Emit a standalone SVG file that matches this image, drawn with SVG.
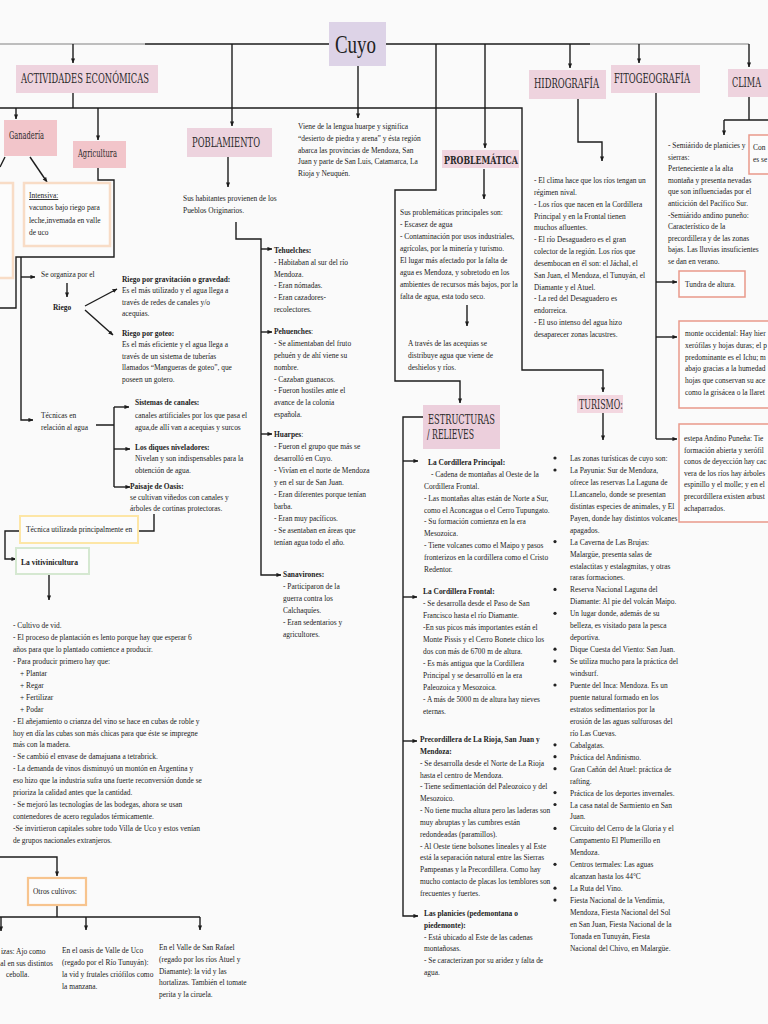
<svg xmlns="http://www.w3.org/2000/svg" width="768" height="1024" viewBox="0 0 768 1024">
<defs>
<style>
.t{font-family:"Liberation Serif","Times New Roman",serif;font-size:9px;fill:#222}
.b{font-weight:bold}
.h{font-family:"DejaVu Serif Condensed","DejaVu Serif",serif;fill:#2a2a2a}
.ln{fill:none;stroke:#1c1c1c;stroke-width:1.4}
.lg{fill:none;stroke:#a8a8a8;stroke-width:1.4}
.ar{marker-end:url(#ah)}
.pk{fill:#eed3de}
.ob{fill:#fcfcfc;stroke:#e9998a;stroke-width:1.5}
</style>
<marker id="ah" viewBox="0 0 6 6" refX="5.5" refY="3" markerWidth="5" markerHeight="5" orient="auto" markerUnits="userSpaceOnUse"><path d="M0,0.5L6,3L0,5.5z" fill="#1c1c1c"/></marker>
</defs>
<rect width="768" height="1024" fill="#fafafa"/>

<g id="connectors">
<path class="lg" d="M0,44H145"/>
<path class="ln" d="M145,44H329M386,44H590"/>
<path class="lg" d="M590,44H749"/>
<path class="ln ar" d="M73,44V63"/>
<path class="ln ar" d="M232,44V126"/>
<path class="ln ar" d="M436,44V190H395V381H460V403"/>
<path class="ln ar" d="M485,44V148"/>
<path class="ln ar" d="M570,44V68"/>
<path class="ln ar" d="M639,44V63"/>
<path class="ln ar" d="M749,44V67"/>
<path class="ln ar" d="M358,66V118"/>
<path class="ln ar" d="M0,108H522V370H603V392"/>
<path class="ln" d="M73,93V108"/>
<path class="ln ar" d="M16,108V119"/>
<path class="ln ar" d="M98,108V140"/>
<path class="ln" d="M5,157L0,167"/>
<path class="ln ar" d="M30,157L47,182"/>
<path class="ln" d="M98,168V180H114V257H16V308H0"/>
<path class="ln ar" d="M21,257V420H33"/>
<path class="ln ar" d="M21,277H35"/>
<path class="ln ar" d="M67,283V297"/>
<path class="ln ar" d="M85,306L117,289"/>
<path class="ln ar" d="M85,310L113,335"/>
<path class="ln" d="M96,425H114M114,407V487"/>
<path class="ln ar" d="M114,407H129"/>
<path class="ln ar" d="M114,449H130"/>
<path class="ln ar" d="M114,487H130"/>
<path class="ln" d="M154,514V531H139"/>
<path class="ln ar" d="M20,531H5V559H16"/>
<path class="ln ar" d="M49,575V600"/>
<path class="ln ar" d="M0,857H57V876"/>
<path class="ln" d="M57,905V917M0,917H200"/>
<path class="ln ar" d="M1,917V931"/>
<path class="ln ar" d="M86,917V930"/>
<path class="ln ar" d="M200,917V930"/>
<path class="ln ar" d="M228,157V187"/>
<path class="ln ar" d="M236,222V239H261V575H281"/>
<path class="ln ar" d="M261,249H272"/>
<path class="ln ar" d="M261,332H272"/>
<path class="ln ar" d="M261,434H272"/>
<path class="ln ar" d="M484,169V199"/>
<path class="ln ar" d="M467,305V326"/>
<path class="ln ar" d="M578,99V142H602V161"/>
<path class="ln ar" d="M603,413V440"/>
<path class="ln" d="M656,93V439"/>
<path class="ln ar" d="M656,282H677"/>
<path class="ln ar" d="M656,337H677"/>
<path class="ln ar" d="M656,439H677"/>
<path class="ln" d="M749,97V120M724,120H768"/>
<path class="ln ar" d="M724,120V135"/>
<path class="ln ar" d="M423,417H403V916H418"/>
<path class="ln ar" d="M403,461H418"/>
<path class="ln ar" d="M403,597H417"/>
<path class="ln ar" d="M403,741H417"/>
</g>

<g id="cuyo">
<rect x="329" y="22" width="57" height="44" fill="#ddd3e7"/>
<text x="335" y="53" font-family="Liberation Serif,serif" font-size="25" fill="#222" textLength="41" lengthAdjust="spacingAndGlyphs">Cuyo</text>
</g>
<g id="cuyo-desc" transform="translate(298,129) scale(.825,1)"><text class="t"><tspan x="0" y="0">Viene de la lengua huarpe y significa</tspan><tspan x="0" y="11.8">“desierto de piedra y arena” y ésta región</tspan><tspan x="0" y="23.6">abarca las provincias de Mendoza, San</tspan><tspan x="0" y="35.4">Juan y parte de San Luis, Catamarca, La</tspan><tspan x="0" y="47.2">Rioja y Neuquén.</tspan></text></g>

<g id="actividades">
<rect x="16" y="65" width="142" height="28" class="pk"/>
<text x="21" y="83" class="h" font-size="12" textLength="128" lengthAdjust="spacingAndGlyphs">ACTIVIDADES ECONÓMICAS</text>
</g>
<g id="ganaderia">
<rect x="4" y="120" width="53" height="36" fill="#f2c5ca"/>
<text x="9" y="139" class="h" font-size="11" textLength="35" lengthAdjust="spacingAndGlyphs">Ganadería</text>
</g>
<g id="agricultura">
<rect x="73" y="141" width="53" height="27" fill="#f2c5ca"/>
<text x="78" y="157" class="h" font-size="11" textLength="39" lengthAdjust="spacingAndGlyphs">Agricultura</text>
</g>
<g id="extensiva">
<rect x="-10" y="183" width="23" height="95" fill="#fcfcfc" stroke="#f8dcc6" stroke-width="2.5"/>
</g>
<g id="intensiva">
<rect x="24" y="183" width="86" height="63" fill="#fcfcfc" stroke="#f8dcc6" stroke-width="2.5"/>
<g transform="translate(29,198) scale(.825,1)"><text class="t"><tspan x="0" y="0" text-decoration="underline">Intensiva:</tspan><tspan x="0" y="12.3">vacunos bajo riego para</tspan><tspan x="0" y="24.6">leche,invemada en valle</tspan><tspan x="0" y="36.9">de uco</tspan></text></g>
</g>
<g id="organiza" transform="translate(41,277) scale(.825,1)"><text class="t"><tspan x="0" y="0">Se organiza por el</tspan></text></g>
<g id="riego" transform="translate(53,310) scale(.825,1)"><text class="t b" font-size="11">Riego</text></g>
<g id="gravitacion" transform="translate(122,282) scale(.825,1)"><text class="t"><tspan x="0" y="0" class="b">Riego por gravitación o gravedad:</tspan><tspan x="0" y="11.3">Es el más utilizado y el agua llega a</tspan><tspan x="0" y="22.6">través de redes de  canales y/o</tspan><tspan x="0" y="33.9">acequias.</tspan></text></g>
<g id="goteo" transform="translate(122,336) scale(.825,1)"><text class="t"><tspan x="0" y="0" class="b">Riego por goteo:</tspan><tspan x="0" y="11.5">Es el más eficiente y el agua llega a</tspan><tspan x="0" y="23">través de un sistema de tuberías</tspan><tspan x="0" y="34.5">llamados “Mangueras de goteo”, que</tspan><tspan x="0" y="46">poseen un gotero.</tspan></text></g>
<g id="tecnicas" transform="translate(41,418) scale(.825,1)"><text class="t"><tspan x="0" y="0">Técnicas en</tspan><tspan x="0" y="12">relación al agua</tspan></text></g>
<g id="sistemas" transform="translate(135,405) scale(.825,1)"><text class="t"><tspan x="0" y="0" class="b">Sistemas de canales:</tspan><tspan x="0" y="12.7">canales artificiales por los que pasa el</tspan><tspan x="0" y="25.4">agua,de allí van a acequias y surcos</tspan></text></g>
<g id="diques" transform="translate(135,450) scale(.825,1)"><text class="t"><tspan x="0" y="0" class="b">Los diques niveladores:</tspan><tspan x="0" y="11.5">Nivelan y son indispensables para la</tspan><tspan x="0" y="23">obtención de agua.</tspan></text></g>
<g id="oasis" transform="translate(130,489) scale(.825,1)"><text class="t"><tspan x="0" y="0" class="b">Paisaje de Oasis:</tspan><tspan x="0" y="11">se cultivan viñedos con canales y</tspan><tspan x="0" y="22">árboles de cortinas protectoras.</tspan></text></g>
<g id="tecnica-utilizada">
<rect x="20" y="516" width="118" height="27" fill="#fcfcfc" stroke="#fde6a6" stroke-width="2"/>
<g transform="translate(26,532) scale(.825,1)"><text class="t">Técnica utilizada principalmente en</text></g>
</g>
<g id="vitivinicultura">
<rect x="16" y="548" width="73" height="26" fill="#fcfcfc" stroke="#d5e8d1" stroke-width="2"/>
<text x="21" y="565" class="t b" font-size="10.5" textLength="57" lengthAdjust="spacingAndGlyphs">La vitivinicultura</text>
</g>
<g id="vitivinicultura-texto" transform="translate(13,628) scale(.825,1)"><text class="t"><tspan x="0" y="0">- Cultivo de vid.</tspan><tspan x="0" y="11.95">- El proceso de plantación es lento porque hay que esperar 6</tspan><tspan x="0" y="23.9">años para que lo plantado comience a producir.</tspan><tspan x="0" y="35.85">- Para producir primero hay que:</tspan><tspan x="8.5" y="47.8">+ Plantar</tspan><tspan x="8.5" y="59.75">+ Regar</tspan><tspan x="8.5" y="71.7">+ Fertilizar</tspan><tspan x="8.5" y="83.65">+ Podar</tspan><tspan x="0" y="95.6">- El añejamiento o crianza del vino se hace en cubas de roble y</tspan><tspan x="0" y="107.55">hoy en día las cubas son más chicas para que éste se impregne</tspan><tspan x="0" y="119.5">más con la madera.</tspan><tspan x="0" y="131.45">- Se cambió el envase de damajuana a tetrabrick.</tspan><tspan x="0" y="143.4">- La demanda de vinos disminuyó un montón en Argentina y</tspan><tspan x="0" y="155.35">eso hizo que la industria sufra una fuerte reconversión donde se</tspan><tspan x="0" y="167.3">prioriza la calidad antes que la cantidad.</tspan><tspan x="0" y="179.25">- Se mejoró las tecnologías de las bodegas, ahora se usan</tspan><tspan x="0" y="191.2">contenedores de acero regulados térmicamente.</tspan><tspan x="0" y="203.15">-Se invirtieron capitales sobre todo Villa de Uco y estos venían</tspan><tspan x="0" y="215.1">de grupos nacionales extranjeros.</tspan></text></g>
<g id="otros-cultivos">
<rect x="28" y="878" width="58" height="27" fill="#fcfcfc" stroke="#f7c48e" stroke-width="2.2"/>
<g transform="translate(33,894) scale(.825,1)"><text class="t">Otros cultivos:</text></g>
</g>
<g id="hortalizas" transform="translate(1,954) scale(.825,1)"><text class="t"><tspan x="0" y="0">izas: Ajo como</tspan><tspan x="-1" y="11.7">al en sus distintos</tspan><tspan x="6" y="23.4">cebolla.</tspan></text></g>
<g id="valle-uco" transform="translate(62,953) scale(.825,1)"><text class="t"><tspan x="0" y="0">En el oasis de Valle de Uco</tspan><tspan x="0" y="12">(regado por el Río Tunuyán):</tspan><tspan x="0" y="24">la vid y frutales criófilos como</tspan><tspan x="0" y="36">la manzana.</tspan></text></g>
<g id="san-rafael" transform="translate(159,950) scale(.825,1)"><text class="t"><tspan x="0" y="0">En el Valle de San Rafael</tspan><tspan x="0" y="11.8">(regado por los ríos Atuel y</tspan><tspan x="0" y="23.6">Diamante): la vid y las</tspan><tspan x="0" y="35.4">hortalizas. También el tomate</tspan><tspan x="0" y="47.2">perita y la ciruela.</tspan></text></g>

<g id="poblamiento">
<rect x="187" y="128" width="85" height="29" fill="#edd3de"/>
<text x="192" y="147" class="h" font-size="12" textLength="68" lengthAdjust="spacingAndGlyphs">POBLAMIENTO</text>
</g>
<g id="poblamiento-desc" transform="translate(183,201) scale(.825,1)"><text class="t"><tspan x="0" y="0">Sus habitantes provienen de los</tspan><tspan x="0" y="12">Pueblos Originarios.</tspan></text></g>
<g id="tehuelches" transform="translate(274,253) scale(.825,1)"><text class="t"><tspan x="0" y="0" class="b">Tehuelches:</tspan><tspan x="0" y="11.8">- Habitaban al sur del río</tspan><tspan x="0" y="23.6">Mendoza.</tspan><tspan x="0" y="35.4">- Eran nómadas.</tspan><tspan x="0" y="47.2">- Eran cazadores-</tspan><tspan x="0" y="59">recolectores.</tspan></text></g>
<g id="pehuenches" transform="translate(274,334) scale(.825,1)"><text class="t"><tspan x="0" y="0"><tspan class="b">Pehuenches</tspan>:</tspan><tspan x="0" y="11.9">- Se alimentaban del fruto</tspan><tspan x="0" y="23.8">pehuén y de ahí viene su</tspan><tspan x="0" y="35.7">nombre.</tspan><tspan x="0" y="47.6">- Cazaban guanacos.</tspan><tspan x="0" y="59.5">- Fueron hostiles ante el</tspan><tspan x="0" y="71.4">avance de la colonia</tspan><tspan x="0" y="83.3">española.</tspan></text></g>
<g id="huarpes" transform="translate(274,437) scale(.825,1)"><text class="t"><tspan x="0" y="0"><tspan class="b">Huarpes</tspan>:</tspan><tspan x="0" y="12">- Fueron el grupo que más se</tspan><tspan x="0" y="24">desarrolló en Cuyo.</tspan><tspan x="0" y="36">- Vivían en el norte de Mendoza</tspan><tspan x="0" y="48">y en el sur de San Juan.</tspan><tspan x="0" y="60">- Eran diferentes porque tenían</tspan><tspan x="0" y="72">barba.</tspan><tspan x="0" y="84">- Eran muy pacíficos.</tspan><tspan x="0" y="96">- Se asentaban en áreas que</tspan><tspan x="0" y="108">tenían agua todo el año.</tspan></text></g>
<g id="sanavirones" transform="translate(283,577) scale(.825,1)"><text class="t"><tspan x="0" y="0" class="b">Sanavirones:</tspan><tspan x="0" y="12">- Participaron de la</tspan><tspan x="0" y="24">guerra contra los</tspan><tspan x="0" y="36">Calchaquíes.</tspan><tspan x="0" y="48">- Eran sedentarios y</tspan><tspan x="0" y="60">agricultores.</tspan></text></g>

<g id="problematica">
<rect x="442" y="150" width="77" height="18" fill="#f0d5df"/>
<text x="444" y="164" class="h" font-size="11" font-weight="bold" textLength="74" lengthAdjust="spacingAndGlyphs">PROBLEMÁTICA</text>
</g>
<g id="problematica-desc" transform="translate(400,215) scale(.825,1)"><text class="t"><tspan x="0" y="0">Sus problemáticas principales son:</tspan><tspan x="0" y="12">- Escasez de agua</tspan><tspan x="0" y="24">- Contaminación por usos industriales,</tspan><tspan x="0" y="36">agrícolas, por la minería y turismo.</tspan><tspan x="0" y="48">El lugar más afectado por la falta de</tspan><tspan x="0" y="60">agua es Mendoza, y sobretodo en los</tspan><tspan x="0" y="72">ambientes de recursos más bajos, por la</tspan><tspan x="0" y="84">falta de agua, esta todo seco.</tspan></text></g>
<g id="acequias" transform="translate(408,346) scale(.825,1)"><text class="t"><tspan x="0" y="0">A través de las acequias se</tspan><tspan x="0" y="11.8">distribuye agua que viene de</tspan><tspan x="0" y="23.6">deshielos y ríos.</tspan></text></g>

<g id="estructuras">
<rect x="423" y="405" width="77" height="44" fill="#eccfdc"/>
<text x="428" y="424" class="h" font-size="13" textLength="67" lengthAdjust="spacingAndGlyphs">ESTRUCTURAS</text>
<text x="427" y="439" class="h" font-size="13" textLength="47" lengthAdjust="spacingAndGlyphs">/ RELIEVES</text>
</g>
<g id="cordillera-principal" transform="translate(424,465) scale(.825,1)"><text class="t"><tspan x="4.85" y="0" class="b">La Cordillera Principal:</tspan><tspan x="8.5" y="11.9">- Cadena de montañas al Oeste de la</tspan><tspan x="0" y="23.8">Cordillera Frontal.</tspan><tspan x="0" y="35.7">- Las montañas altas están de Norte a Sur,</tspan><tspan x="0" y="47.6">como el Aconcagua o el Cerro Tupungato.</tspan><tspan x="0" y="59.5">- Su formación comienza en la era</tspan><tspan x="0" y="71.4">Mesozoica.</tspan><tspan x="0" y="83.3">- Tiene volcanes como el Maipo y pasos</tspan><tspan x="0" y="95.2">fronterizos en la cordillera como el Cristo</tspan><tspan x="0" y="107.1">Redentor.</tspan></text></g>
<g id="cordillera-frontal" transform="translate(423,594) scale(.825,1)"><text class="t"><tspan x="0" y="0" class="b">La Cordillera Frontal:</tspan><tspan x="0" y="12">- Se desarrolla desde el Paso de San</tspan><tspan x="0" y="24">Francisco hasta el río Diamante.</tspan><tspan x="0" y="36">-En sus picos más importantes están el</tspan><tspan x="0" y="48">Monte Pissis y el Cerro Bonete chico los</tspan><tspan x="0" y="60">dos con más de 6700 m de altura.</tspan><tspan x="0" y="72">- Es más antigua que la Cordillera</tspan><tspan x="0" y="84">Principal y se desarrolló en la era</tspan><tspan x="0" y="96">Paleozoica y Mesozoica.</tspan><tspan x="0" y="108">- A más de 5000 m  de altura hay nieves</tspan><tspan x="0" y="120">eternas.</tspan></text></g>
<g id="precordillera" transform="translate(420,742) scale(.825,1)"><text class="t"><tspan x="0" y="0" class="b">Precordillera de La Rioja, San Juan y</tspan><tspan x="0" y="11.85" class="b">Mendoza:</tspan><tspan x="0" y="23.7">- Se desarrolla desde el Norte de La Rioja</tspan><tspan x="0" y="35.55">hasta el centro de Mendoza.</tspan><tspan x="0" y="47.4">- Tiene sedimentación del Paleozoico y del</tspan><tspan x="0" y="59.25">Mesozoico.</tspan><tspan x="0" y="71.1">- No tiene mucha altura pero las laderas son</tspan><tspan x="0" y="82.95">muy abruptas y las cumbres están</tspan><tspan x="0" y="94.8">redondeadas (paramillos).</tspan><tspan x="0" y="106.65">- Al Oeste tiene bolsones lineales y al Este</tspan><tspan x="0" y="118.5">está la separación natural entre las Sierras</tspan><tspan x="0" y="130.35">Pampeanas y la Precordillera. Como hay</tspan><tspan x="0" y="142.2">mucho contacto de placas los temblores son</tspan><tspan x="0" y="154.05">frecuentes y fuertes.</tspan></text></g>
<g id="planicies" transform="translate(424,916) scale(.825,1)"><text class="t"><tspan x="0" y="0" class="b">Las planicies (pedemontana o</tspan><tspan x="0" y="11.8" class="b">piedemonte):</tspan><tspan x="0" y="23.6">- Está ubicado al Este de las cadenas</tspan><tspan x="0" y="35.4">montañosas.</tspan><tspan x="0" y="47.2">- Se caracterizan por su aridez y falta de</tspan><tspan x="0" y="59">agua.</tspan></text></g>

<g id="hidrografia">
<rect x="529" y="70" width="77" height="29" class="pk"/>
<text x="534" y="88" class="h" font-size="12" textLength="65" lengthAdjust="spacingAndGlyphs">HIDROGRAFÍA</text>
</g>
<g id="hidrografia-desc" transform="translate(534,183) scale(.825,1)"><text class="t"><tspan x="0" y="0">- El clima hace que los ríos tengan un</tspan><tspan x="0" y="11.85">régimen nival.</tspan><tspan x="0" y="23.7">- Los ríos que nacen en la Cordillera</tspan><tspan x="0" y="35.55">Principal y en la Frontal tienen</tspan><tspan x="0" y="47.4">muchos afluentes.</tspan><tspan x="0" y="59.25">- El río Desaguadero es el gran</tspan><tspan x="0" y="71.1">colector de la región. Los ríos que</tspan><tspan x="0" y="82.95">desembocan en él son: el Jáchal, el</tspan><tspan x="0" y="94.8">San Juan, el Mendoza, el Tunuyán, el</tspan><tspan x="0" y="106.65">Diamante y el Atuel.</tspan><tspan x="0" y="118.5">- La red del Desaguadero es</tspan><tspan x="0" y="130.35">endorreica.</tspan><tspan x="0" y="142.2">- El uso intenso del agua hizo</tspan><tspan x="0" y="154.05">desaparecer zonas lacustres.</tspan></text></g>

<g id="turismo">
<rect x="577" y="395" width="46" height="18" fill="#f3d7e0"/>
<text x="579" y="409" class="h" font-size="12" textLength="44" lengthAdjust="spacingAndGlyphs">TURISMO:</text>
</g>
<g id="turismo-lista">
<g fill="#222"><circle cx="555" cy="458" r="1.6"/><circle cx="555" cy="470" r="1.6"/><circle cx="555" cy="541.6" r="1.6"/><circle cx="555" cy="589.4" r="1.6"/><circle cx="555" cy="613.3" r="1.6"/><circle cx="555" cy="649.2" r="1.6"/><circle cx="555" cy="661.1" r="1.6"/><circle cx="555" cy="685" r="1.6"/><circle cx="555" cy="744.8" r="1.6"/><circle cx="555" cy="756.7" r="1.6"/><circle cx="555" cy="768.7" r="1.6"/><circle cx="555" cy="792.6" r="1.6"/><circle cx="555" cy="804.5" r="1.6"/><circle cx="555" cy="828.4" r="1.6"/><circle cx="555" cy="864.3" r="1.6"/><circle cx="555" cy="888.2" r="1.6"/><circle cx="555" cy="900.1" r="1.6"/></g>
<g transform="translate(570,461) scale(.825,1)"><text class="t"><tspan x="0" y="0">Las zonas turísticas de cuyo son:</tspan><tspan x="0" y="11.95">La Payunia: Sur de Mendoza,</tspan><tspan x="0" y="23.9">ofrece las reservas La Laguna de</tspan><tspan x="0" y="35.85">LLancanelo, donde se presentan</tspan><tspan x="0" y="47.8">distintas especies de animales, y El</tspan><tspan x="0" y="59.75">Payen, donde hay distintos volcanes</tspan><tspan x="0" y="71.7">apagados.</tspan><tspan x="0" y="83.65">La Caverna de Las Brujas:</tspan><tspan x="0" y="95.6">Malargüe, presenta salas de</tspan><tspan x="0" y="107.55">estalactitas y estalagmitas, y otras</tspan><tspan x="0" y="119.5">raras formaciones.</tspan><tspan x="0" y="131.45">Reserva Nacional Laguna del</tspan><tspan x="0" y="143.4">Diamante: Al pie del volcán Maipo.</tspan><tspan x="0" y="155.35">Un lugar donde, además de su</tspan><tspan x="0" y="167.3">belleza, es visitado para la pesca</tspan><tspan x="0" y="179.25">deportiva.</tspan><tspan x="0" y="191.2">Dique Cuesta del Viento: San Juan.</tspan><tspan x="0" y="203.15">Se utiliza mucho para la práctica del</tspan><tspan x="0" y="215.1">windsurf.</tspan><tspan x="0" y="227.05">Puente del Inca: Mendoza. Es un</tspan><tspan x="0" y="239">puente natural formado en los</tspan><tspan x="0" y="250.95">estratos sedimentarios por la</tspan><tspan x="0" y="262.9">erosión de las aguas sulfurosas del</tspan><tspan x="0" y="274.85">río Las Cuevas.</tspan><tspan x="0" y="286.8">Cabalgatas.</tspan><tspan x="0" y="298.75">Práctica del Andinismo.</tspan><tspan x="0" y="310.7">Gran Cañón del Atuel: práctica de</tspan><tspan x="0" y="322.65">rafting.</tspan><tspan x="0" y="334.6">Práctica de los deportes invernales.</tspan><tspan x="0" y="346.55">La casa natal de Sarmiento en San</tspan><tspan x="0" y="358.5">Juan.</tspan><tspan x="0" y="370.45">Circuito del Cerro de la Gloria y el</tspan><tspan x="0" y="382.4">Campamento El Plumerillo en</tspan><tspan x="0" y="394.35">Mendoza.</tspan><tspan x="0" y="406.3">Centros termales: Las aguas</tspan><tspan x="0" y="418.25">alcanzan hasta los 44°C</tspan><tspan x="0" y="430.2">La Ruta del Vino.</tspan><tspan x="0" y="442.15">Fiesta Nacional de la Vendimia,</tspan><tspan x="0" y="454.1">Mendoza, Fiesta Nacional del Sol</tspan><tspan x="0" y="466.05">en San Juan, Fiesta Nacional de la</tspan><tspan x="0" y="478">Tonada en Tunuyán, Fiesta</tspan><tspan x="0" y="489.95">Nacional del Chivo, en Malargüe.</tspan></text></g>
</g>

<g id="fitogeografia">
<rect x="611" y="65" width="89" height="28" class="pk"/>
<text x="614" y="83" class="h" font-size="12" textLength="76" lengthAdjust="spacingAndGlyphs">FITOGEOGRAFÍA</text>
</g>
<g id="tundra">
<rect x="679" y="271" width="66" height="26" class="ob"/>
<g transform="translate(685,287) scale(.825,1)"><text class="t">Tundra de altura.</text></g>
</g>
<g id="monte">
<rect x="679" y="321" width="95" height="87" class="ob"/>
<g transform="translate(685,336) scale(.825,1)"><text class="t"><tspan x="0" y="0">monte occidental: Hay hier</tspan><tspan x="0" y="11.8">xerófilas y hojas duras; el p</tspan><tspan x="0" y="23.6">predominante es el Ichu; m</tspan><tspan x="0" y="35.4">abajo gracias a la humedad</tspan><tspan x="0" y="47.2">hojas que conservan su ace</tspan><tspan x="0" y="59">como la grisácea o la llaret</tspan></text></g>
</g>
<g id="estepa">
<rect x="679" y="424" width="95" height="98" class="ob"/>
<g transform="translate(684,441) scale(.825,1)"><text class="t"><tspan x="0" y="0">estepa Andino Puneña: Tie</tspan><tspan x="0" y="11.6">formación abierta y xerófil</tspan><tspan x="0" y="23.2">conos de deyección hay cac</tspan><tspan x="0" y="34.8">vera de los ríos hay árboles</tspan><tspan x="0" y="46.4">espinillo y el molle; y en el</tspan><tspan x="0" y="58">precordillera existen arbust</tspan><tspan x="0" y="69.6">achaparrados.</tspan></text></g>
</g>

<g id="clima">
<rect x="728" y="69" width="45" height="28" class="pk"/>
<g transform="translate(732,87) scale(.78,1)"><text class="h" font-size="12" textLength="37.2" lengthAdjust="spacingAndGlyphs">CLIMA</text></g>
</g>
<g id="clima-desc" transform="translate(668,148) scale(.825,1)"><text class="t"><tspan x="0" y="0">- Semiárido de planicies y</tspan><tspan x="0" y="11.6">sierras:</tspan><tspan x="0" y="23.2">Perteneciente a la alta</tspan><tspan x="0" y="34.8">montaña y presenta nevadas</tspan><tspan x="0" y="46.4">que son influenciadas por el</tspan><tspan x="0" y="58">anticición del Pacífico Sur.</tspan><tspan x="0" y="69.6">-Semiárido andino puneño:</tspan><tspan x="0" y="81.2">Característico de la</tspan><tspan x="0" y="92.8">precordillera y de las zonas</tspan><tspan x="0" y="104.4">bajas. Las lluvias insuficientes</tspan><tspan x="0" y="116">se dan en verano.</tspan></text></g>
<g id="clima-con">
<rect x="749" y="135" width="25" height="39" class="ob"/>
<g transform="translate(753,150) scale(.825,1)"><text class="t"><tspan x="0" y="0">Con</tspan><tspan x="0" y="12.5">es se</tspan></text></g>
</g>
</svg>
